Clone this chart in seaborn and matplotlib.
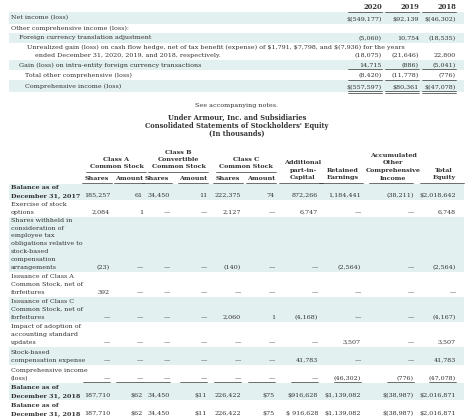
import matplotlib
matplotlib.use("Agg")
import matplotlib.pyplot as plt
import seaborn as sns

sns.set_theme(style="white")
plt.rcParams['font.family'] = ['DejaVu Serif']

SHADE = '#e2f0ef'
INK = '#333333'

# ---- top statement: comprehensive income ----
years = ['2020', '2019', '2018']
oci_labels = [
    ['Net income (loss)'],
    ['Other comprehensive income (loss):'],
    ['Foreign currency translation adjustment'],
    ['Unrealized gain (loss) on cash flow hedge, net of tax benefit (expense) of $1,791, $7,798, and $(7,936) for the years',
     'ended December 31, 2020, 2019, and 2018, respectively.'],
    ['Gain (loss) on intra-entity foreign currency transactions'],
    ['Total other comprehensive (loss)'],
    ['Comprehensive income (loss)'],
]
oci_values = [
    ['$(549,177)', '$92,139', '$(46,302)'],
    ['', '', ''],
    ['(5,060)', '10,754', '(18,535)'],
    ['(18,075)', '(21,646)', '22,800'],
    ['14,715', '(886)', '(5,041)'],
    ['(8,420)', '(11,778)', '(776)'],
    ['$(557,597)', '$80,361', '$(47,078)'],
]

# ---- stockholders' equity ----
title_lines = ['Under Armour, Inc. and Subsidiaries',
               "Consolidated Statements of Stockholders' Equity",
               '(In thousands)']
eq_labels = [
    ['Balance as of', 'December 31, 2017'],
    ['Exercise of stock', 'options'],
    ['Shares withheld in', 'consideration of', 'employee tax', 'obligations relative to',
     'stock-based', 'compensation', 'arrangements'],
    ['Issuance of Class A', 'Common Stock, net of', 'forfeitures'],
    ['Issuance of Class C', 'Common Stock, net of', 'forfeitures'],
    ['Impact of adoption of', 'accounting standard', 'updates'],
    ['Stock-based', 'compensation expense'],
    ['Comprehensive income', '(loss)'],
    ['Balance as of', 'December 31, 2018'],
    ['Balance as of', 'December 31, 2018'],
]
D = '—'
eq_values = [
    ['185,257', '61', '34,450', '11', '222,375', '74', '872,266', '1,184,441', '(38,211)', '$2,018,642'],
    ['2,084', '1', D, D, '2,127', D, '6,747', D, D, '6,748'],
    ['(23)', D, D, D, '(140)', D, D, '(2,564)', D, '(2,564)'],
    ['392', D, D, D, D, D, D, D, D, D],
    [D, D, D, D, '2,060', '1', '(4,168)', D, D, '(4,167)'],
    [D, D, D, D, D, D, D, '3,507', D, '3,507'],
    [D, D, D, D, D, D, '41,783', D, D, '41,783'],
    [D, D, D, D, D, D, D, '(46,302)', '(776)', '(47,078)'],
    ['187,710', '$62', '34,450', '$11', '226,422', '$75', '$916,628', '$1,139,082', '$(38,987)', '$2,016,871'],
    ['187,710', '$62', '34,450', '$11', '226,422', '$75', '$ 916,628', '$1,139,082', '$(38,987)', '$2,016,871'],
]
group_heads = [['Class A', 'Common Stock'], ['Class B', 'Convertible', 'Common Stock'],
               ['Class C', 'Common Stock']]
sub_heads = ['Shares', 'Amount']
other_heads = [['Additional', 'part-in-', 'Capital'], ['Retained', 'Earnings'],
               ['Accumulated', 'Other', 'Comprehensive', 'Income'], ['Total', 'Equity']]

fig = plt.figure(figsize=(4.74, 4.18), dpi=100)
ax = fig.add_axes([0, 0, 1, 1])
ax.set_xlim(0, 474)
ax.set_ylim(418, 0)
ax.axis('off')

fs = 4.6
LH = 7.9

# top table
oci_x = [382, 419, 456]
for x, y in zip(oci_x, years):
    ax.text(x, 7, y, ha='right', va='center', fontsize=fs + 0.3, weight='bold', color=INK)
    ax.plot([x - 34, x], [12, 12], color=INK, lw=0.5)
oci_rows = [(12, 24, 0), (24, 33, 0), (33, 43, 8), (43, 60, 16), (60, 70, 8), (70, 80, 14), (80, 92, 14)]
for i, ((y0, y1, ind), labs, vals) in enumerate(zip(oci_rows, oci_labels, oci_values)):
    if i in (0, 2, 4, 6):
        ax.add_patch(plt.Rectangle((9, y0), 455, y1 - y0, color=SHADE, lw=0))
    n = len(labs)
    for k, t in enumerate(labs):
        ax.text(11 + ind + (8 if k else 0), (y0 + y1) / 2 + (k - (n - 1) / 2) * 9, t,
                ha='left', va='center', fontsize=fs, color=INK)
    for x, v in zip(oci_x, vals):
        ax.text(x, y1 - 4.5, v, ha='right', va='center', fontsize=fs, color=INK)
for x in oci_x:
    ax.plot([x - 34, x], [68.5, 68.5], color=INK, lw=0.5)
    ax.plot([x - 34, x], [79.5, 79.5], color=INK, lw=0.5)
    ax.plot([x - 34, x], [91, 91], color=INK, lw=0.5)
    ax.plot([x - 34, x], [92.5, 92.5], color=INK, lw=0.5)

ax.text(237, 105, 'See accompanying notes.', ha='center', va='center', fontsize=fs, color=INK)
for k, t in enumerate(title_lines):
    ax.text(237, 118 + k * 8, t, ha='center', va='center', fontsize=fs + 0.3, weight='bold', color=INK)

# equity header
col_x = [110, 143, 170, 207, 241, 275, 318, 361, 414, 456]
grp_centers = [(col_x[0] + col_x[1]) / 2 - 10, (col_x[2] + col_x[3]) / 2 - 10, (col_x[4] + col_x[5]) / 2 - 12]
for cx, lines in zip(grp_centers, group_heads):
    n = len(lines)
    for k, t in enumerate(lines):
        ax.text(cx, 167 - (n - 1 - k) * 7.5, t, ha='center', va='center', fontsize=fs, weight='bold', color=INK)
    ax.plot([cx - 30, cx + 30], [172, 172], color=INK, lw=0.5)
for j in range(6):
    cx = col_x[j] - (13 if j % 2 == 0 else 14)
    ax.text(cx, 178, sub_heads[j % 2], ha='center', va='center', fontsize=fs, weight='bold', color=INK)
    ax.plot([cx - 15, cx + 15], [183, 183], color=INK, lw=0.5)
for cx, lines in zip([303, 343, 393, 444], other_heads):
    n = len(lines)
    for k, t in enumerate(lines):
        ax.text(cx, 178 - (n - 1 - k) * 7.5, t, ha='center', va='center', fontsize=fs, weight='bold', color=INK)
    ax.plot([cx - 24, cx + 20], [183, 183], color=INK, lw=0.5)

# equity body
row_bounds = [(184, 200), (200, 217), (217, 272), (272, 297), (297, 322), (322, 347), (347, 365),
              (365, 383), (383, 400), (400, 418)]
for i, ((y0, y1), labs, vals) in enumerate(zip(row_bounds, eq_labels, eq_values)):
    if i in (0, 2, 4, 6, 8):
        ax.add_patch(plt.Rectangle((9, y0), 455, y1 - y0, color=SHADE, lw=0))
    bold = i in (0, 8, 9)
    n = len(labs)
    for k, t in enumerate(labs):
        ax.text(11, y1 - 4.5 - (n - 1 - k) * LH, t, ha='left', va='center', fontsize=fs,
                weight='bold' if bold else 'normal', color=INK)
    for x, v in zip(col_x, vals):
        ax.text(x, y1 - 4.5, v, ha='right', va='center', fontsize=fs, color=INK)
for x in col_x:
    ax.plot([x - 27, x], [382, 382], color=INK, lw=0.5)

fig.savefig('out.png', dpi=100, facecolor='white')
